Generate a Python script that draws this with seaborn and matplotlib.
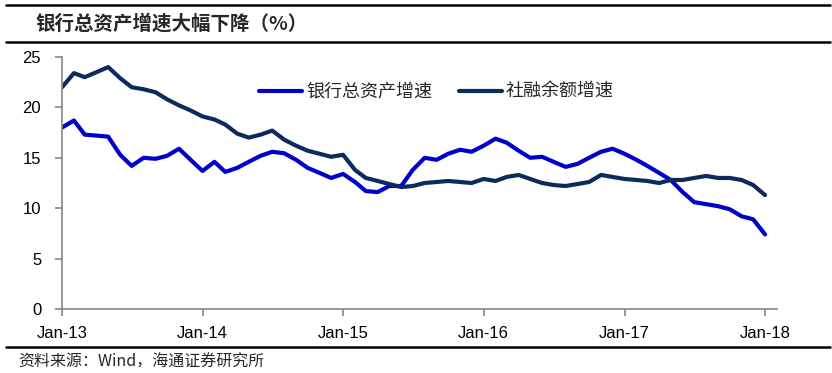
import numpy as np
import pandas as pd
import matplotlib
matplotlib.use("Agg")
import matplotlib.pyplot as plt
import matplotlib.dates as mdates
from matplotlib.lines import Line2D
import seaborn as sns

# monthly data, Jan-13 .. Jan-18
start_month = "2013-01-01"
bank_assets = [
    18.0, 18.7, 17.3, 17.2, 17.1, 15.3, 14.2, 15.0, 14.9, 15.2,
    15.9, 14.8, 13.7, 14.6, 13.6, 14.0, 14.6, 15.2, 15.6, 15.45,
    14.8, 14.0, 13.5, 13.0, 13.4, 12.6, 11.7, 11.6, 12.2, 12.2,
    13.8, 15.0, 14.8, 15.4, 15.8, 15.6, 16.2, 16.9, 16.5, 15.7,
    15.0, 15.1, 14.6, 14.1, 14.4, 15.0, 15.6, 15.9, 15.4, 14.8,
    14.2, 13.5, 12.8, 11.6, 10.6, 10.4, 10.2, 9.9, 9.2, 8.9,
    7.4,
]
tsf_stock = [
    22.0, 23.4, 23.0, 23.5, 24.0, 22.9, 22.0, 21.8, 21.5, 20.8,
    20.2, 19.7, 19.1, 18.8, 18.3, 17.4, 17.0, 17.3, 17.7, 16.8,
    16.2, 15.7, 15.4, 15.1, 15.3, 13.8, 13.0, 12.7, 12.4, 12.1,
    12.2, 12.5, 12.6, 12.7, 12.6, 12.5, 12.9, 12.7, 13.1, 13.3,
    12.9, 12.5, 12.3, 12.2, 12.4, 12.6, 13.3, 13.1, 12.9, 12.8,
    12.7, 12.5, 12.8, 12.8, 13.0, 13.2, 13.0, 13.0, 12.8, 12.3,
    11.3,
]
series_names = ["银行总资产增速", "社融余额增速"]
series_colors = ["#0000CC", "#0C2B5C"]
y_ticks = [0, 5, 10, 15, 20, 25]
x_tick_years = [2013, 2014, 2015, 2016, 2017, 2018]

title = "银行总资产增速大幅下降（%）"
source = "资料来源：Wind，海通证券研究所"

months = pd.date_range(start_month, periods=len(bank_assets), freq="MS")
df = pd.DataFrame({
    "date": np.concatenate([months, months]),
    "value": bank_assets + tsf_stock,
    "series": [series_names[0]] * len(months) + [series_names[1]] * len(months),
})

sns.set_theme(style="white")
plt.rcParams["font.family"] = ["Liberation Sans", "Noto Sans CJK SC", "DejaVu Sans"]

fig = plt.figure(figsize=(8.32, 3.73), dpi=100)
ax = fig.add_axes([62 / 832, 1 - 309 / 373, 715 / 832, 252 / 373])

sns.lineplot(
    data=df, x="date", y="value", hue="series",
    palette=dict(zip(series_names, series_colors)),
    linewidth=3.0, ax=ax, legend=False,
)
for line in ax.lines:
    line.set_solid_joinstyle("round")
    line.set_solid_capstyle("round")

ax.set_ylim(0, 25)
ax.set_yticks(y_ticks)
ax.set_xlim(months[0], months[-1] + pd.DateOffset(months=1))
ax.set_xticks([pd.Timestamp(f"{y}-01-01") for y in x_tick_years])
ax.xaxis.set_major_formatter(mdates.DateFormatter("%b-%y"))
ax.set_xlabel("")
ax.set_ylabel("")

axis_gray = "#868686"
ax.spines[["top", "right"]].set_visible(False)
ax.spines[["left", "bottom"]].set_color(axis_gray)
ax.spines[["left", "bottom"]].set_linewidth(1.2)
ax.tick_params(axis="y", direction="out", length=5, width=1.2, color=axis_gray,
               labelsize=12, labelcolor="black", pad=10, left=True)
ax.tick_params(axis="x", direction="out", length=5, width=1.2, color=axis_gray,
               labelsize=12, labelcolor="black", pad=7, bottom=True)
ax.grid(False)

handles = [Line2D([0], [0], color=c, linewidth=3.0) for c in series_colors]
ax.legend(
    handles, series_names, ncol=2, frameon=False,
    loc="center left", bbox_to_anchor=(259 / 832, 1 - 92 / 373),
    bbox_transform=fig.transFigure, borderpad=0, borderaxespad=0,
    handlelength=2.4, handletextpad=0.2, columnspacing=1.5,
    prop={"family": ["Noto Sans CJK SC"], "size": 13},
)

# header / footer rules and texts
for yy in (5, 42, 347):
    fig.add_artist(Line2D([6 / 832, 830 / 832], [1 - yy / 373] * 2,
                          color="black", linewidth=1.8, transform=fig.transFigure))
fig.text(35 / 832, 1 - 24 / 373, title, fontsize=14, fontweight="bold",
         family=["Noto Sans CJK SC"], ha="left", va="center")
fig.text(18 / 832, 1 - 362 / 373, source, fontsize=11.5,
         family=["Noto Sans CJK SC", "Liberation Sans"], ha="left", va="center")

fig.savefig("out.png", dpi=100)
